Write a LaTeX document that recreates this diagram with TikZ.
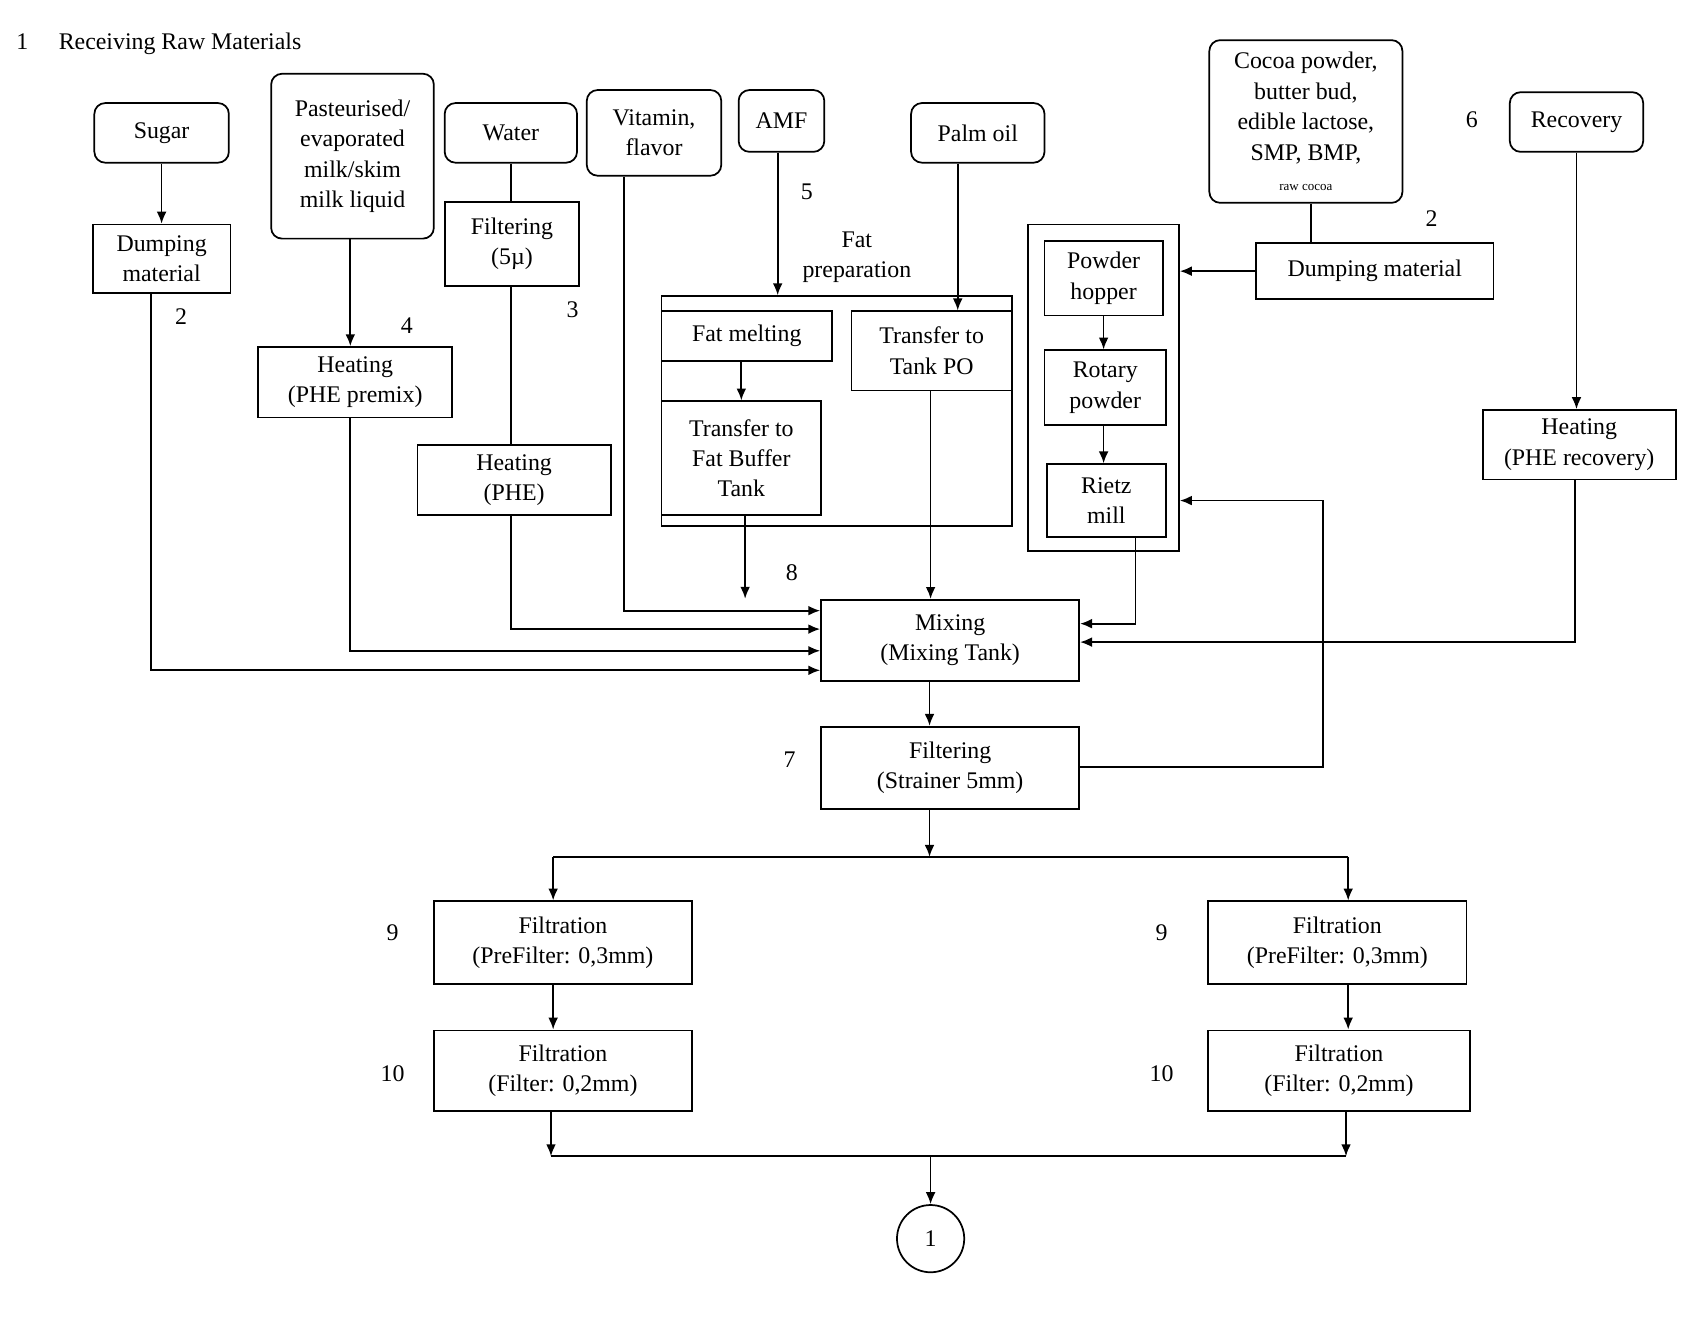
\documentclass[tikz,border=0pt]{standalone}
\usepackage{fontspec}
\setmainfont{Liberation Serif}
\usetikzlibrary{arrows.meta}
\begin{document}
\begin{tikzpicture}[x=1pt,y=-1pt,
  every node/.style={font=\fontsize{22}{28}\selectfont, align=center, inner sep=0pt},
  box/.style={draw, line width=1.6pt},
  rbox/.style={box, rounded corners=10pt},
  ln/.style={line width=1.6pt},
  arr/.style={ln, -{Latex[length=11pt,width=9pt]}}]
\useasboundingbox (0,0) rectangle (1560,1227);

\node[anchor=west] (title) at (15,40) {1\hspace{28pt}Receiving Raw Materials};

% sources
\node[rbox, minimum width=124, minimum height=55] (sug) at (149,122.5) {Sugar};
\node[rbox, minimum width=150, minimum height=152] (past) at (325,144) {Pasteurised/\\evaporated\\milk/skim\\milk liquid};
\node[rbox, minimum width=122, minimum height=55] (wat) at (471,122.5) {Water};
\node[rbox, minimum width=124, minimum height=79] (vit) at (603,122.5) {Vitamin,\\flavor};
\node[rbox, minimum width=79, minimum height=57] (amf) at (720.5,111.5) {AMF};
\node[rbox, minimum width=123, minimum height=55] (palm) at (901.5,122.5) {Palm oil};
\node[rbox, minimum width=178, minimum height=150] (coc) at (1204,112) {Cocoa powder,\\butter bud,\\edible lactose,\\SMP, BMP,\\{\fontsize{12}{12}\selectfont raw cocoa}};
\node[rbox, minimum width=123, minimum height=55] (rec) at (1453.5,112.5) {Recovery};

% steps
\node[box, minimum width=127, minimum height=63] (dumpA) at (149,238.5) {Dumping\\material};
\node[box, minimum width=124, minimum height=78] (filt) at (472,225) {Filtering\\(5µ)};
\node[box, minimum width=179, minimum height=65] (hpre) at (327.5,352.5) {Heating\\(PHE premix)};
\node[box, minimum width=178, minimum height=65] (hphe) at (474,442.5) {Heating\\(PHE)};
\node[box, minimum width=219, minimum height=52] (dumpB) at (1267.5,250) {Dumping material};
\node[box, minimum width=178, minimum height=64] (hrec) at (1456,410) {Heating\\(PHE recovery)};

% fat preparation
\node[box, minimum width=323, minimum height=212] (fat) at (771.5,379) {};
\node (fatlbl) at (790,237) {Fat\\preparation};
\node[box, minimum width=157, minimum height=46] (melt) at (688.5,310) {Fat melting};
\node[box, minimum width=147, minimum height=105] (buf) at (683.5,422.5) {Transfer to\\Fat Buffer\\Tank};
\node[box, minimum width=148, minimum height=73] (tpo) at (859,323.5) {Transfer to\\Tank PO};

% powder group
\node[box, minimum width=139, minimum height=301] (pgr) at (1017.5,357.5) {};
\node[box, minimum width=109, minimum height=69] (hop) at (1017.5,256.5) {Powder\\hopper};
\node[box, minimum width=112, minimum height=69] (rot) at (1019,357.5) {Rotary\\powder};
\node[box, minimum width=110, minimum height=67] (rietz) at (1020,461.5) {Rietz\\mill};

% main line
\node[box, minimum width=238, minimum height=75] (mix) at (876,590.5) {Mixing\\(Mixing Tank)};
\node[box, minimum width=238, minimum height=76] (str) at (876,708) {Filtering\\(Strainer 5mm)};
\node[box, minimum width=238, minimum height=76] (pfL) at (519,869) {Filtration\\(PreFilter: 0,3mm)};
\node[box, minimum width=238, minimum height=76] (pfR) at (1233,869) {Filtration\\(PreFilter: 0,3mm)};
\node[box, minimum width=238, minimum height=74] (fL) at (519,987) {Filtration\\(Filter: 0,2mm)};
\node[box, minimum width=241, minimum height=74] (fR) at (1234.5,987) {Filtration\\(Filter: 0,2mm)};
\node[draw, circle, line width=1.6pt, minimum size=62] (c1) at (858,1142) {1};

% step numbers
\node (n2a) at (167,292) {2};
\node (n4) at (375,300) {4};
\node (n3) at (528,286) {3};
\node (n5) at (744,177) {5};
\node (n6) at (1357,110) {6};
\node (n2b) at (1320,202) {2};
\node (n8) at (730,528) {8};
\node (n7) at (728,700) {7};
\node (n9a) at (362,860) {9};
\node (n9b) at (1071,860) {9};
\node (n10a) at (362,990) {10};
\node (n10b) at (1071,990) {10};

% connectors
\draw[arr] (sug) -- (dumpA);
\draw[arr] ([xshift=-10]dumpA.south) |- ([yshift=-27.5pt]mix.west);
\draw[arr] ([xshift=-2]past.south) -- ([xshift=-4.5]hpre.north);
\draw[arr] ([xshift=-4.5]hpre.south) |- ([yshift=-9.5pt]mix.west);
\draw[ln] (wat.south) -- (wat.south |- filt.north);
\draw[ln] (wat.south |- filt.south) -- (wat.south |- hphe.north);
\draw[arr] (wat.south |- hphe.south) |- ([yshift=10.5pt]mix.west);
\draw[arr] ([xshift=-28]vit.south) |- ([yshift=27.5pt]mix.west);
\draw[arr] ([xshift=-3.5]amf.south) -- ([xshift=-3.5]amf.south |- fat.north);
\draw[arr] ([xshift=-18.5]palm.south) -- ([xshift=-18.5]palm.south |- tpo.north);
\draw[arr] (melt.south -| buf.north) -- (buf.north);
\coordinate (e8) at (687,552);
\draw[arr] (buf.south -| e8) -- (e8);
\coordinate (po) at (858,0);
\draw[arr] (tpo.south -| po) -- (mix.north -| po);
\draw[ln] (coc.south -| 1209,0) -- (dumpB.north -| 1209,0);
\draw[arr] (dumpB.west) -- (dumpB.west -| pgr.east);
\draw[arr] (hop) -- (hop.south |- rot.north);
\draw[arr] (rot.south -| hop.south) -- (rietz.north -| hop.south);
\draw[arr] ([xshift=27]rietz.south) |- ([yshift=15.5pt]mix.east);
\draw[arr] (rec) -- (rec.south |- hrec.north);
\draw[arr] ([xshift=-4]hrec.south) |- ([yshift=-1.5pt]mix.east);
\coordinate (mx) at (857,0);
\draw[arr] (mix.south -| mx) -- (str.north -| mx);
\coordinate (rt) at (1220,707);
\draw[arr] (str.east |- rt) -- (rt) |- (rietz.east -| pgr.east);

\coordinate (sp) at (857,790);
\draw[arr] (str.south -| sp) -- (sp);
\coordinate (bL) at (510,790);
\coordinate (bR) at (1243,790);
\draw[ln] (bL) -- (bR);
\draw[arr] (bL) -- (pfL.north -| bL);
\draw[arr] (bR) -- (pfR.north -| bR);
\draw[arr] (pfL.south -| bL) -- (fL.north -| bL);
\draw[arr] (pfR.south -| bR) -- (fR.north -| bR);
\coordinate (jL) at (508,1066);
\coordinate (jR) at (1241,1066);
\coordinate (jM) at (858,1066);
\draw[arr] (fL.south -| jL) -- (jL);
\draw[arr] (fR.south -| jR) -- (jR);
\draw[ln] (jL) -- (jR);
\draw[arr] (jM) -- (c1.north);
\end{tikzpicture}
\end{document}
